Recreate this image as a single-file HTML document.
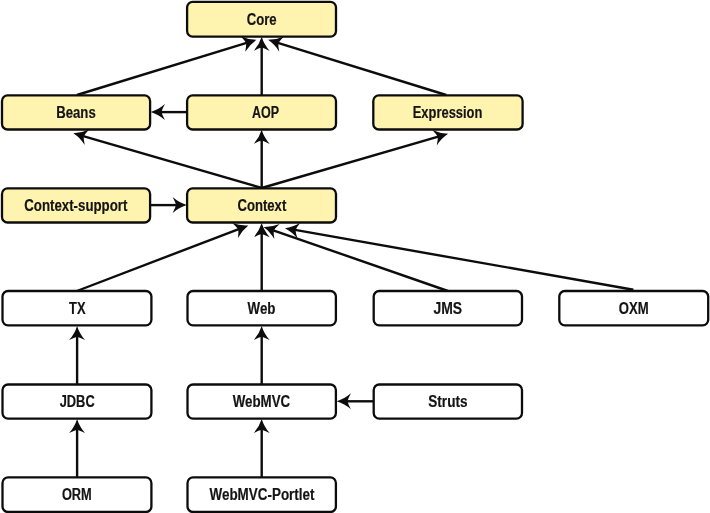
<!DOCTYPE html>
<html><head><meta charset="utf-8"><title>Spring modules</title>
<style>
html,body{margin:0;padding:0;background:#fff;}
svg{display:block;will-change:transform;}
text{font-family:"Liberation Sans",sans-serif;font-weight:bold;font-size:15.6px;fill:#141414;stroke:#141414;stroke-width:0.18;}
.b{stroke:#0c0c0c;stroke-width:2.3;}
.l{stroke:#0c0c0c;stroke-width:2.4;fill:none;}
.h{fill:#0c0c0c;stroke:none;}
</style></head><body>
<svg width="710" height="513" viewBox="0 0 710 513">
<rect x="0" y="0" width="710" height="513" fill="#fff"/>

<line class="l" x1="76.90" y1="95.00" x2="246.61" y2="42.86"/>
<path class="h" transform="translate(256.46,39.84) rotate(-17.08)" d="M0,0 Q-7.81,-2.40 -14.20,-8.00 Q-11.40,-2.80 -10.80,0 Q-11.40,2.80 -14.20,8.00 Q-7.81,2.40 0,0Z"/>
<line class="l" x1="261.70" y1="95.00" x2="261.70" y2="47.00"/>
<path class="h" transform="translate(261.70,36.70) rotate(-90.00)" d="M0,0 Q-7.81,-2.40 -14.20,-8.00 Q-11.40,-2.80 -10.80,0 Q-11.40,2.80 -14.20,8.00 Q-7.81,2.40 0,0Z"/>
<line class="l" x1="446.20" y1="95.00" x2="277.88" y2="42.88"/>
<path class="h" transform="translate(268.04,39.83) rotate(-162.80)" d="M0,0 Q-7.81,-2.40 -14.20,-8.00 Q-11.40,-2.80 -10.80,0 Q-11.40,2.80 -14.20,8.00 Q-7.81,2.40 0,0Z"/>
<line class="l" x1="187.50" y1="112.10" x2="161.00" y2="112.10"/>
<path class="h" transform="translate(150.70,112.10) rotate(180.00)" d="M0,0 Q-7.81,-2.40 -14.20,-8.00 Q-11.40,-2.80 -10.80,0 Q-11.40,2.80 -14.20,8.00 Q-7.81,2.40 0,0Z"/>
<line class="l" x1="261.70" y1="188.00" x2="83.23" y2="136.12"/>
<path class="h" transform="translate(73.34,133.25) rotate(-163.79)" d="M0,0 Q-7.81,-2.40 -14.20,-8.00 Q-11.40,-2.80 -10.80,0 Q-11.40,2.80 -14.20,8.00 Q-7.81,2.40 0,0Z"/>
<line class="l" x1="261.70" y1="188.00" x2="261.70" y2="140.00"/>
<path class="h" transform="translate(261.70,129.70) rotate(-90.00)" d="M0,0 Q-7.81,-2.40 -14.20,-8.00 Q-11.40,-2.80 -10.80,0 Q-11.40,2.80 -14.20,8.00 Q-7.81,2.40 0,0Z"/>
<line class="l" x1="261.70" y1="188.00" x2="438.27" y2="136.63"/>
<path class="h" transform="translate(448.16,133.75) rotate(-16.22)" d="M0,0 Q-7.81,-2.40 -14.20,-8.00 Q-11.40,-2.80 -10.80,0 Q-11.40,2.80 -14.20,8.00 Q-7.81,2.40 0,0Z"/>
<line class="l" x1="150.00" y1="205.10" x2="176.50" y2="205.10"/>
<path class="h" transform="translate(186.80,205.10) rotate(0.00)" d="M0,0 Q-7.81,-2.40 -14.20,-8.00 Q-11.40,-2.80 -10.80,0 Q-11.40,2.80 -14.20,8.00 Q-7.81,2.40 0,0Z"/>
<line class="l" x1="76.90" y1="291.00" x2="238.72" y2="229.06"/>
<path class="h" transform="translate(248.34,225.38) rotate(-20.95)" d="M0,0 Q-7.81,-2.40 -14.20,-8.00 Q-11.40,-2.80 -10.80,0 Q-11.40,2.80 -14.20,8.00 Q-7.81,2.40 0,0Z"/>
<line class="l" x1="261.70" y1="291.00" x2="261.70" y2="233.40"/>
<path class="h" transform="translate(261.70,223.10) rotate(-90.00)" d="M0,0 Q-7.81,-2.40 -14.20,-8.00 Q-11.40,-2.80 -10.80,0 Q-11.40,2.80 -14.20,8.00 Q-7.81,2.40 0,0Z"/>
<line class="l" x1="447.90" y1="291.00" x2="273.28" y2="230.29"/>
<path class="h" transform="translate(263.55,226.90) rotate(-160.83)" d="M0,0 Q-7.81,-2.40 -14.20,-8.00 Q-11.40,-2.80 -10.80,0 Q-11.40,2.80 -14.20,8.00 Q-7.81,2.40 0,0Z"/>
<line class="l" x1="633.40" y1="289.70" x2="295.06" y2="229.94"/>
<path class="h" transform="translate(284.91,228.14) rotate(-169.98)" d="M0,0 Q-7.81,-2.40 -14.20,-8.00 Q-11.40,-2.80 -10.80,0 Q-11.40,2.80 -14.20,8.00 Q-7.81,2.40 0,0Z"/>
<line class="l" x1="77.10" y1="384.50" x2="77.10" y2="336.20"/>
<path class="h" transform="translate(77.10,325.90) rotate(-90.00)" d="M0,0 Q-7.81,-2.40 -14.20,-8.00 Q-11.40,-2.80 -10.80,0 Q-11.40,2.80 -14.20,8.00 Q-7.81,2.40 0,0Z"/>
<line class="l" x1="77.10" y1="477.30" x2="77.10" y2="429.20"/>
<path class="h" transform="translate(77.10,418.90) rotate(-90.00)" d="M0,0 Q-7.81,-2.40 -14.20,-8.00 Q-11.40,-2.80 -10.80,0 Q-11.40,2.80 -14.20,8.00 Q-7.81,2.40 0,0Z"/>
<line class="l" x1="261.70" y1="384.50" x2="261.70" y2="336.20"/>
<path class="h" transform="translate(261.70,325.90) rotate(-90.00)" d="M0,0 Q-7.81,-2.40 -14.20,-8.00 Q-11.40,-2.80 -10.80,0 Q-11.40,2.80 -14.20,8.00 Q-7.81,2.40 0,0Z"/>
<line class="l" x1="261.70" y1="477.30" x2="261.70" y2="429.20"/>
<path class="h" transform="translate(261.70,418.90) rotate(-90.00)" d="M0,0 Q-7.81,-2.40 -14.20,-8.00 Q-11.40,-2.80 -10.80,0 Q-11.40,2.80 -14.20,8.00 Q-7.81,2.40 0,0Z"/>
<line class="l" x1="373.70" y1="401.30" x2="347.00" y2="401.30"/>
<path class="h" transform="translate(336.70,401.30) rotate(180.00)" d="M0,0 Q-7.81,-2.40 -14.20,-8.00 Q-11.40,-2.80 -10.80,0 Q-11.40,2.80 -14.20,8.00 Q-7.81,2.40 0,0Z"/>
<rect class="b" x="187.10" y="1.90" width="148.90" height="34.70" rx="5.6" ry="5.6" fill="#fff3b0"/>
<rect class="b" x="2.00" y="95.40" width="148.10" height="34.10" rx="5.6" ry="5.6" fill="#fff3b0"/>
<rect class="b" x="187.10" y="95.40" width="148.90" height="34.10" rx="5.6" ry="5.6" fill="#fff3b0"/>
<rect class="b" x="373.30" y="95.40" width="149.30" height="34.10" rx="5.6" ry="5.6" fill="#fff3b0"/>
<rect class="b" x="2.00" y="188.40" width="148.10" height="34.10" rx="5.6" ry="5.6" fill="#fff3b0"/>
<rect class="b" x="187.10" y="188.40" width="148.90" height="34.10" rx="5.6" ry="5.6" fill="#fff3b0"/>
<rect class="b" x="2.50" y="291.00" width="148.90" height="34.40" rx="5.6" ry="5.6" fill="#fff"/>
<rect class="b" x="187.50" y="291.00" width="148.40" height="34.40" rx="5.6" ry="5.6" fill="#fff"/>
<rect class="b" x="373.70" y="291.00" width="148.30" height="34.40" rx="5.6" ry="5.6" fill="#fff"/>
<rect class="b" x="559.30" y="291.00" width="148.90" height="34.40" rx="5.6" ry="5.6" fill="#fff"/>
<rect class="b" x="2.50" y="384.50" width="148.90" height="34.20" rx="5.6" ry="5.6" fill="#fff"/>
<rect class="b" x="187.50" y="384.50" width="148.40" height="34.20" rx="5.6" ry="5.6" fill="#fff"/>
<rect class="b" x="373.70" y="384.50" width="148.30" height="34.20" rx="5.6" ry="5.6" fill="#fff"/>
<rect class="b" x="2.50" y="477.30" width="148.90" height="34.70" rx="5.6" ry="5.6" fill="#fff"/>
<rect class="b" x="187.50" y="477.30" width="148.40" height="34.70" rx="5.6" ry="5.6" fill="#fff"/>
<g style="opacity:0.999">
<text x="246.70" y="24.85" textLength="29.95" lengthAdjust="spacingAndGlyphs">Core</text>
<text x="56.30" y="118.05" textLength="39.40" lengthAdjust="spacingAndGlyphs">Beans</text>
<text x="252.10" y="118.05" textLength="27.10" lengthAdjust="spacingAndGlyphs">AOP</text>
<text x="412.75" y="118.05" textLength="69.65" lengthAdjust="spacingAndGlyphs">Expression</text>
<text x="24.20" y="211.05" textLength="103.20" lengthAdjust="spacingAndGlyphs">Context-support</text>
<text x="237.40" y="211.05" textLength="48.90" lengthAdjust="spacingAndGlyphs">Context</text>
<text x="69.10" y="313.80" textLength="16.50" lengthAdjust="spacingAndGlyphs">TX</text>
<text x="247.60" y="313.80" textLength="27.90" lengthAdjust="spacingAndGlyphs">Web</text>
<text x="433.40" y="313.80" textLength="28.70" lengthAdjust="spacingAndGlyphs">JMS</text>
<text x="618.70" y="313.80" textLength="29.90" lengthAdjust="spacingAndGlyphs">OXM</text>
<text x="59.70" y="407.20" textLength="35.00" lengthAdjust="spacingAndGlyphs">JDBC</text>
<text x="232.70" y="407.20" textLength="57.50" lengthAdjust="spacingAndGlyphs">WebMVC</text>
<text x="428.30" y="407.20" textLength="39.20" lengthAdjust="spacingAndGlyphs">Struts</text>
<text x="61.90" y="500.25" textLength="29.90" lengthAdjust="spacingAndGlyphs">ORM</text>
<text x="209.50" y="500.25" textLength="105.00" lengthAdjust="spacingAndGlyphs">WebMVC-Portlet</text>
</g>
</svg></body></html>
